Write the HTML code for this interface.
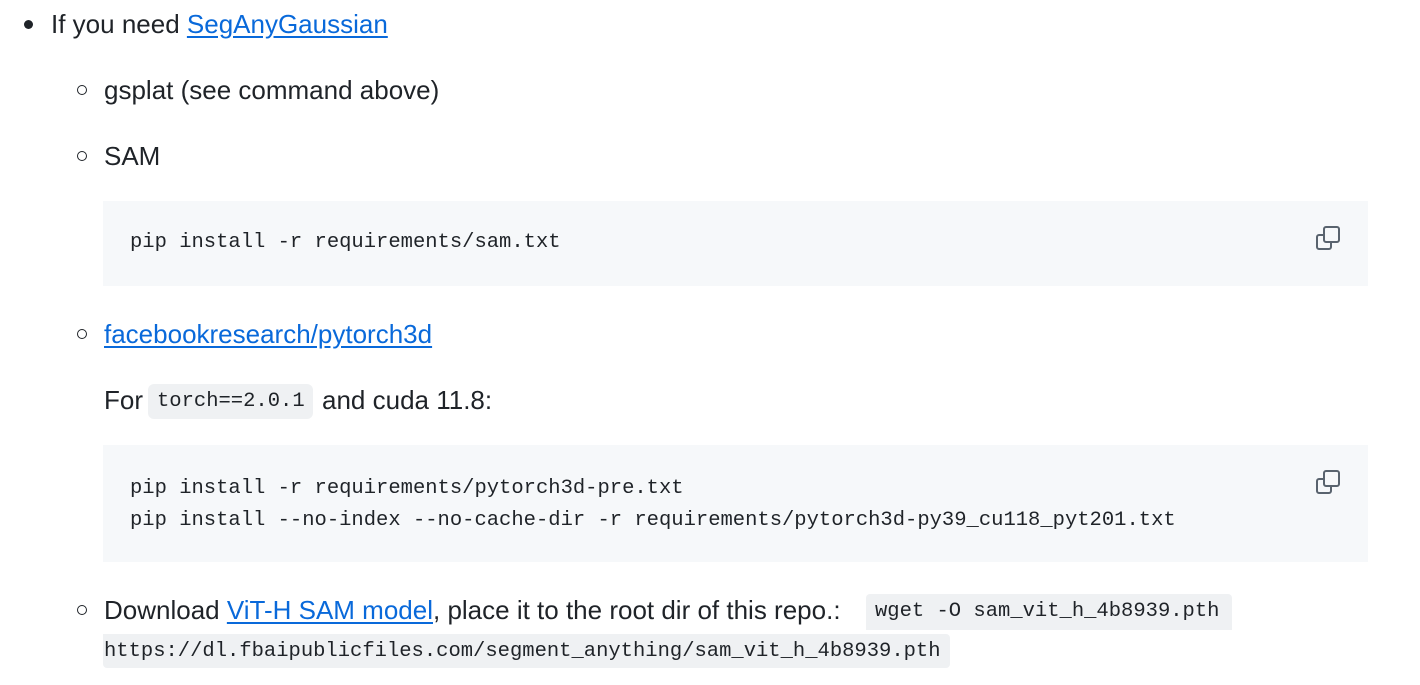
<!DOCTYPE html>
<html><head><style>
body{margin:0;width:1420px;height:685px;background:#fff;position:relative;overflow:hidden;font-family:"Liberation Sans",sans-serif;color:#1f2328}
.t{position:absolute;font-size:26px;line-height:30px;white-space:nowrap}
a{color:#0969da;text-decoration:underline;text-underline-offset:3px}
.m{font-family:"Liberation Mono",monospace;font-size:20.5px;white-space:pre}
.dot{position:absolute;width:9px;height:9px;border-radius:50%;background:#1f2328}
.circ{position:absolute;width:8px;height:8px;border-radius:50%;border:1.5px solid #1f2328}
.blk{position:absolute;left:103px;width:1265px;background:#f6f8fa}
.ic{position:absolute;left:1316px}
.ic::before,.ic::after{content:"";position:absolute;border:2px solid #59636e;border-radius:3px;background:transparent}
.ic::before{left:0;top:8px;width:12px;height:12px}
.ic::after{left:7px;top:0;width:13px;height:13px;background:#f6f8fa}
.ib{position:absolute;background:#eff1f3;border-radius:6px}
</style></head><body>
<div class="dot" style="left:24px;top:20px"></div>
<div class="t" style="left:51px;top:9px">If you need <a>SegAnyGaussian</a></div>
<div class="circ" style="left:77px;top:85px"></div>
<div class="t" style="left:104px;top:75px">gsplat (see command above)</div>
<div class="circ" style="left:77px;top:151px"></div>
<div class="t" style="left:104px;top:141px">SAM</div>
<div class="blk" style="top:201px;height:85px"></div>
<div class="t m" style="left:130px;top:228px">pip install -r requirements/sam.txt</div>
<div class="ic" style="top:226px"></div>
<div class="circ" style="left:77px;top:329px"></div>
<div class="t" style="left:104px;top:319px"><a>facebookresearch/pytorch3d</a></div>
<div class="ib" style="left:148px;top:384px;width:165px;height:35px"></div>
<div class="t" style="left:104px;top:385px">For</div>
<div class="t m" style="left:157px;top:387px">torch==2.0.1</div>
<div class="t" style="left:322px;top:385px">and cuda 11.8:</div>
<div class="blk" style="top:445px;height:117px"></div>
<div class="t m" style="left:130px;top:474px">pip install -r requirements/pytorch3d-pre.txt</div>
<div class="t m" style="left:130px;top:506px">pip install --no-index --no-cache-dir -r requirements/pytorch3d-py39_cu118_pyt201.txt</div>
<div class="ic" style="top:470px"></div>
<div class="circ" style="left:77px;top:605px"></div>
<div class="ib" style="left:866px;top:594px;width:366px;height:36px;border-radius:4px 4px 0 0"></div>
<div class="t" style="left:104px;top:595px">Download <a>ViT-H SAM model</a>, place it to the root dir of this repo.:</div>
<div class="t m" style="left:875px;top:597px">wget -O sam_vit_h_4b8939.pth</div>
<div class="ib" style="left:103px;top:634px;width:847px;height:34px;border-radius:0 4px 4px 4px"></div>
<div class="t m" style="left:104px;top:637px">https://dl.fbaipublicfiles.com/segment_anything/sam_vit_h_4b8939.pth</div>
</body></html>
